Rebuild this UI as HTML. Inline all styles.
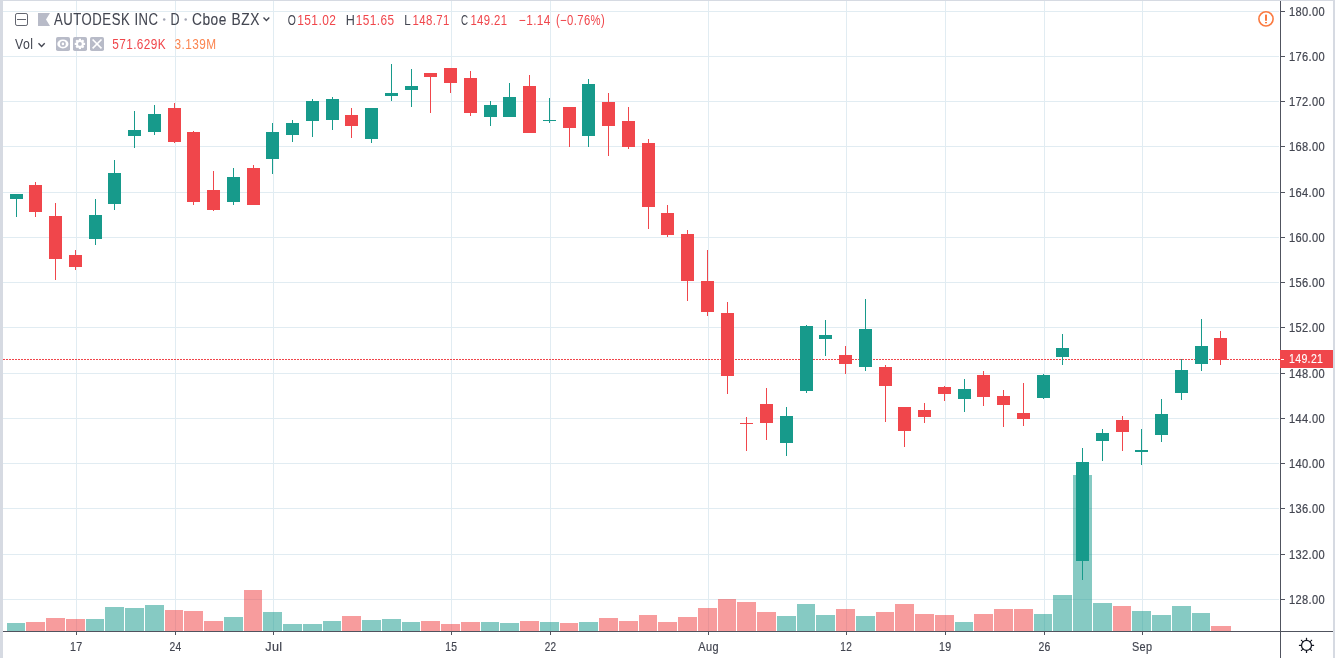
<!DOCTYPE html>
<html><head><meta charset="utf-8"><style>
html,body{margin:0;padding:0;background:#fff}
body{width:1335px;height:658px;overflow:hidden;position:relative;font-family:"Liberation Sans", sans-serif}
</style></head><body>
<svg width="1335" height="658" viewBox="0 0 1335 658" style="position:absolute;left:0;top:0;will-change:transform">
<g shape-rendering="crispEdges">
<rect x="0" y="0" width="1335" height="658" fill="#fff"/>
<rect x="0" y="0" width="3" height="658" fill="#d6dae2"/>
<rect x="0" y="0" width="1335" height="1" fill="#d6dae2"/>
<rect x="1333" y="0" width="2" height="658" fill="#d6dae2"/>
<rect x="3" y="11" width="1276" height="1" fill="#e1ecf2"/>
<rect x="3" y="56" width="1276" height="1" fill="#e1ecf2"/>
<rect x="3" y="101" width="1276" height="1" fill="#e1ecf2"/>
<rect x="3" y="146" width="1276" height="1" fill="#e1ecf2"/>
<rect x="3" y="192" width="1276" height="1" fill="#e1ecf2"/>
<rect x="3" y="237" width="1276" height="1" fill="#e1ecf2"/>
<rect x="3" y="282" width="1276" height="1" fill="#e1ecf2"/>
<rect x="3" y="327" width="1276" height="1" fill="#e1ecf2"/>
<rect x="3" y="373" width="1276" height="1" fill="#e1ecf2"/>
<rect x="3" y="418" width="1276" height="1" fill="#e1ecf2"/>
<rect x="3" y="463" width="1276" height="1" fill="#e1ecf2"/>
<rect x="3" y="508" width="1276" height="1" fill="#e1ecf2"/>
<rect x="3" y="554" width="1276" height="1" fill="#e1ecf2"/>
<rect x="3" y="599" width="1276" height="1" fill="#e1ecf2"/>
<rect x="76" y="1" width="1" height="630" fill="#e1ecf2"/>
<rect x="175" y="1" width="1" height="630" fill="#e1ecf2"/>
<rect x="273" y="1" width="1" height="630" fill="#e1ecf2"/>
<rect x="451" y="1" width="1" height="630" fill="#e1ecf2"/>
<rect x="550" y="1" width="1" height="630" fill="#e1ecf2"/>
<rect x="708" y="1" width="1" height="630" fill="#e1ecf2"/>
<rect x="846" y="1" width="1" height="630" fill="#e1ecf2"/>
<rect x="945" y="1" width="1" height="630" fill="#e1ecf2"/>
<rect x="1044" y="1" width="1" height="630" fill="#e1ecf2"/>
<rect x="1142" y="1" width="1" height="630" fill="#e1ecf2"/>
<rect x="7" y="623" width="18" height="8" fill="#0e9688" fill-opacity="0.5"/>
<rect x="26" y="622" width="19" height="9" fill="#ef3a3c" fill-opacity="0.5"/>
<rect x="46" y="618" width="19" height="13" fill="#ef3a3c" fill-opacity="0.5"/>
<rect x="66" y="619" width="19" height="12" fill="#ef3a3c" fill-opacity="0.5"/>
<rect x="86" y="619" width="18" height="12" fill="#0e9688" fill-opacity="0.5"/>
<rect x="105" y="607" width="19" height="24" fill="#0e9688" fill-opacity="0.5"/>
<rect x="125" y="608" width="19" height="23" fill="#0e9688" fill-opacity="0.5"/>
<rect x="145" y="605" width="19" height="26" fill="#0e9688" fill-opacity="0.5"/>
<rect x="165" y="610" width="18" height="21" fill="#ef3a3c" fill-opacity="0.5"/>
<rect x="184" y="611" width="19" height="20" fill="#ef3a3c" fill-opacity="0.5"/>
<rect x="204" y="621" width="19" height="10" fill="#ef3a3c" fill-opacity="0.5"/>
<rect x="224" y="617" width="19" height="14" fill="#0e9688" fill-opacity="0.5"/>
<rect x="244" y="590" width="18" height="41" fill="#ef3a3c" fill-opacity="0.5"/>
<rect x="263" y="612" width="19" height="19" fill="#0e9688" fill-opacity="0.5"/>
<rect x="283" y="624" width="19" height="7" fill="#0e9688" fill-opacity="0.5"/>
<rect x="303" y="624" width="19" height="7" fill="#0e9688" fill-opacity="0.5"/>
<rect x="323" y="621" width="18" height="10" fill="#0e9688" fill-opacity="0.5"/>
<rect x="342" y="616" width="19" height="15" fill="#ef3a3c" fill-opacity="0.5"/>
<rect x="362" y="620" width="19" height="11" fill="#0e9688" fill-opacity="0.5"/>
<rect x="382" y="619" width="19" height="12" fill="#0e9688" fill-opacity="0.5"/>
<rect x="402" y="622" width="18" height="9" fill="#0e9688" fill-opacity="0.5"/>
<rect x="421" y="621" width="19" height="10" fill="#ef3a3c" fill-opacity="0.5"/>
<rect x="441" y="624" width="19" height="7" fill="#ef3a3c" fill-opacity="0.5"/>
<rect x="461" y="622" width="19" height="9" fill="#ef3a3c" fill-opacity="0.5"/>
<rect x="481" y="622" width="18" height="9" fill="#0e9688" fill-opacity="0.5"/>
<rect x="500" y="623" width="19" height="8" fill="#0e9688" fill-opacity="0.5"/>
<rect x="520" y="621" width="19" height="10" fill="#ef3a3c" fill-opacity="0.5"/>
<rect x="540" y="622" width="19" height="9" fill="#0e9688" fill-opacity="0.5"/>
<rect x="560" y="623" width="18" height="8" fill="#ef3a3c" fill-opacity="0.5"/>
<rect x="579" y="622" width="19" height="9" fill="#0e9688" fill-opacity="0.5"/>
<rect x="599" y="618" width="19" height="13" fill="#ef3a3c" fill-opacity="0.5"/>
<rect x="619" y="621" width="19" height="10" fill="#ef3a3c" fill-opacity="0.5"/>
<rect x="639" y="615" width="18" height="16" fill="#ef3a3c" fill-opacity="0.5"/>
<rect x="658" y="622" width="19" height="9" fill="#ef3a3c" fill-opacity="0.5"/>
<rect x="678" y="617" width="19" height="14" fill="#ef3a3c" fill-opacity="0.5"/>
<rect x="698" y="608" width="19" height="23" fill="#ef3a3c" fill-opacity="0.5"/>
<rect x="718" y="599" width="18" height="32" fill="#ef3a3c" fill-opacity="0.5"/>
<rect x="737" y="602" width="19" height="29" fill="#ef3a3c" fill-opacity="0.5"/>
<rect x="757" y="612" width="19" height="19" fill="#ef3a3c" fill-opacity="0.5"/>
<rect x="777" y="616" width="19" height="15" fill="#0e9688" fill-opacity="0.5"/>
<rect x="797" y="604" width="18" height="27" fill="#0e9688" fill-opacity="0.5"/>
<rect x="816" y="615" width="19" height="16" fill="#0e9688" fill-opacity="0.5"/>
<rect x="836" y="609" width="19" height="22" fill="#ef3a3c" fill-opacity="0.5"/>
<rect x="856" y="616" width="19" height="15" fill="#0e9688" fill-opacity="0.5"/>
<rect x="876" y="612" width="18" height="19" fill="#ef3a3c" fill-opacity="0.5"/>
<rect x="895" y="604" width="19" height="27" fill="#ef3a3c" fill-opacity="0.5"/>
<rect x="915" y="614" width="19" height="17" fill="#ef3a3c" fill-opacity="0.5"/>
<rect x="935" y="615" width="19" height="16" fill="#ef3a3c" fill-opacity="0.5"/>
<rect x="955" y="622" width="18" height="9" fill="#0e9688" fill-opacity="0.5"/>
<rect x="974" y="614" width="19" height="17" fill="#ef3a3c" fill-opacity="0.5"/>
<rect x="994" y="609" width="19" height="22" fill="#ef3a3c" fill-opacity="0.5"/>
<rect x="1014" y="609" width="19" height="22" fill="#ef3a3c" fill-opacity="0.5"/>
<rect x="1034" y="614" width="18" height="17" fill="#0e9688" fill-opacity="0.5"/>
<rect x="1053" y="595" width="19" height="36" fill="#0e9688" fill-opacity="0.5"/>
<rect x="1073" y="475" width="19" height="156" fill="#0e9688" fill-opacity="0.5"/>
<rect x="1093" y="603" width="19" height="28" fill="#0e9688" fill-opacity="0.5"/>
<rect x="1113" y="606" width="18" height="25" fill="#ef3a3c" fill-opacity="0.5"/>
<rect x="1132" y="611" width="19" height="20" fill="#0e9688" fill-opacity="0.5"/>
<rect x="1152" y="615" width="19" height="16" fill="#0e9688" fill-opacity="0.5"/>
<rect x="1172" y="606" width="19" height="25" fill="#0e9688" fill-opacity="0.5"/>
<rect x="1192" y="613" width="18" height="18" fill="#0e9688" fill-opacity="0.5"/>
<rect x="1211" y="626" width="20" height="5" fill="#ef3a3c" fill-opacity="0.5"/>
</g>
<line x1="3" y1="359.5" x2="1280" y2="359.5" stroke="#f0464b" stroke-width="1" stroke-dasharray="2 1"/>
<g shape-rendering="crispEdges">
<rect x="16" y="194" width="1" height="23" fill="#179a8b"/>
<rect x="10" y="194" width="13" height="5" fill="#179a8b"/>
<rect x="35" y="182" width="1" height="35" fill="#f0464b"/>
<rect x="29" y="185" width="13" height="27" fill="#f0464b"/>
<rect x="55" y="203" width="1" height="77" fill="#f0464b"/>
<rect x="49" y="216" width="13" height="43" fill="#f0464b"/>
<rect x="75" y="250" width="1" height="20" fill="#f0464b"/>
<rect x="69" y="255" width="13" height="12" fill="#f0464b"/>
<rect x="95" y="199" width="1" height="46" fill="#179a8b"/>
<rect x="89" y="215" width="13" height="24" fill="#179a8b"/>
<rect x="114" y="160" width="1" height="50" fill="#179a8b"/>
<rect x="108" y="173" width="13" height="31" fill="#179a8b"/>
<rect x="134" y="111" width="1" height="37" fill="#179a8b"/>
<rect x="128" y="130" width="13" height="6" fill="#179a8b"/>
<rect x="154" y="105" width="1" height="30" fill="#179a8b"/>
<rect x="148" y="114" width="13" height="18" fill="#179a8b"/>
<rect x="174" y="103" width="1" height="40" fill="#f0464b"/>
<rect x="168" y="108" width="13" height="34" fill="#f0464b"/>
<rect x="193" y="131" width="1" height="74" fill="#f0464b"/>
<rect x="187" y="132" width="13" height="70" fill="#f0464b"/>
<rect x="213" y="171" width="1" height="40" fill="#f0464b"/>
<rect x="207" y="190" width="13" height="20" fill="#f0464b"/>
<rect x="233" y="168" width="1" height="37" fill="#179a8b"/>
<rect x="227" y="177" width="13" height="25" fill="#179a8b"/>
<rect x="253" y="165" width="1" height="39" fill="#f0464b"/>
<rect x="247" y="168" width="13" height="37" fill="#f0464b"/>
<rect x="272" y="123" width="1" height="51" fill="#179a8b"/>
<rect x="266" y="132" width="13" height="27" fill="#179a8b"/>
<rect x="292" y="120" width="1" height="22" fill="#179a8b"/>
<rect x="286" y="123" width="13" height="12" fill="#179a8b"/>
<rect x="312" y="99" width="1" height="38" fill="#179a8b"/>
<rect x="306" y="101" width="13" height="20" fill="#179a8b"/>
<rect x="332" y="97" width="1" height="33" fill="#179a8b"/>
<rect x="326" y="99" width="13" height="21" fill="#179a8b"/>
<rect x="351" y="108" width="1" height="30" fill="#f0464b"/>
<rect x="345" y="115" width="13" height="11" fill="#f0464b"/>
<rect x="371" y="108" width="1" height="35" fill="#179a8b"/>
<rect x="365" y="108" width="13" height="31" fill="#179a8b"/>
<rect x="391" y="64" width="1" height="37" fill="#179a8b"/>
<rect x="385" y="93" width="13" height="3" fill="#179a8b"/>
<rect x="411" y="69" width="1" height="38" fill="#179a8b"/>
<rect x="405" y="86" width="13" height="4" fill="#179a8b"/>
<rect x="430" y="73" width="1" height="40" fill="#f0464b"/>
<rect x="424" y="73" width="13" height="4" fill="#f0464b"/>
<rect x="450" y="68" width="1" height="25" fill="#f0464b"/>
<rect x="444" y="68" width="13" height="15" fill="#f0464b"/>
<rect x="470" y="71" width="1" height="45" fill="#f0464b"/>
<rect x="464" y="78" width="13" height="35" fill="#f0464b"/>
<rect x="490" y="101" width="1" height="25" fill="#179a8b"/>
<rect x="484" y="105" width="13" height="12" fill="#179a8b"/>
<rect x="509" y="83" width="1" height="34" fill="#179a8b"/>
<rect x="503" y="97" width="13" height="20" fill="#179a8b"/>
<rect x="529" y="75" width="1" height="58" fill="#f0464b"/>
<rect x="523" y="86" width="13" height="47" fill="#f0464b"/>
<rect x="549" y="98" width="1" height="25" fill="#179a8b"/>
<rect x="543" y="120" width="13" height="1" fill="#179a8b"/>
<rect x="569" y="107" width="1" height="40" fill="#f0464b"/>
<rect x="563" y="107" width="13" height="21" fill="#f0464b"/>
<rect x="588" y="79" width="1" height="68" fill="#179a8b"/>
<rect x="582" y="84" width="13" height="52" fill="#179a8b"/>
<rect x="608" y="93" width="1" height="63" fill="#f0464b"/>
<rect x="602" y="102" width="13" height="24" fill="#f0464b"/>
<rect x="628" y="107" width="1" height="42" fill="#f0464b"/>
<rect x="622" y="121" width="13" height="26" fill="#f0464b"/>
<rect x="648" y="139" width="1" height="90" fill="#f0464b"/>
<rect x="642" y="143" width="13" height="64" fill="#f0464b"/>
<rect x="667" y="205" width="1" height="32" fill="#f0464b"/>
<rect x="661" y="213" width="13" height="22" fill="#f0464b"/>
<rect x="687" y="230" width="1" height="71" fill="#f0464b"/>
<rect x="681" y="234" width="13" height="47" fill="#f0464b"/>
<rect x="707" y="250" width="1" height="66" fill="#f0464b"/>
<rect x="701" y="281" width="13" height="31" fill="#f0464b"/>
<rect x="727" y="302" width="1" height="92" fill="#f0464b"/>
<rect x="721" y="313" width="13" height="63" fill="#f0464b"/>
<rect x="746" y="417" width="1" height="34" fill="#f0464b"/>
<rect x="740" y="423" width="13" height="1" fill="#f0464b"/>
<rect x="766" y="388" width="1" height="52" fill="#f0464b"/>
<rect x="760" y="404" width="13" height="19" fill="#f0464b"/>
<rect x="786" y="407" width="1" height="49" fill="#179a8b"/>
<rect x="780" y="416" width="13" height="27" fill="#179a8b"/>
<rect x="806" y="325" width="1" height="68" fill="#179a8b"/>
<rect x="800" y="326" width="13" height="65" fill="#179a8b"/>
<rect x="825" y="320" width="1" height="36" fill="#179a8b"/>
<rect x="819" y="335" width="13" height="4" fill="#179a8b"/>
<rect x="845" y="346" width="1" height="28" fill="#f0464b"/>
<rect x="839" y="355" width="13" height="9" fill="#f0464b"/>
<rect x="865" y="299" width="1" height="72" fill="#179a8b"/>
<rect x="859" y="329" width="13" height="38" fill="#179a8b"/>
<rect x="885" y="365" width="1" height="57" fill="#f0464b"/>
<rect x="879" y="367" width="13" height="19" fill="#f0464b"/>
<rect x="904" y="407" width="1" height="40" fill="#f0464b"/>
<rect x="898" y="407" width="13" height="24" fill="#f0464b"/>
<rect x="924" y="403" width="1" height="20" fill="#f0464b"/>
<rect x="918" y="410" width="13" height="7" fill="#f0464b"/>
<rect x="944" y="386" width="1" height="15" fill="#f0464b"/>
<rect x="938" y="387" width="13" height="7" fill="#f0464b"/>
<rect x="964" y="379" width="1" height="33" fill="#179a8b"/>
<rect x="958" y="389" width="13" height="10" fill="#179a8b"/>
<rect x="983" y="371" width="1" height="35" fill="#f0464b"/>
<rect x="977" y="375" width="13" height="22" fill="#f0464b"/>
<rect x="1003" y="390" width="1" height="37" fill="#f0464b"/>
<rect x="997" y="396" width="13" height="9" fill="#f0464b"/>
<rect x="1023" y="383" width="1" height="43" fill="#f0464b"/>
<rect x="1017" y="413" width="13" height="6" fill="#f0464b"/>
<rect x="1043" y="374" width="1" height="25" fill="#179a8b"/>
<rect x="1037" y="375" width="13" height="23" fill="#179a8b"/>
<rect x="1062" y="334" width="1" height="31" fill="#179a8b"/>
<rect x="1056" y="348" width="13" height="9" fill="#179a8b"/>
<rect x="1082" y="448" width="1" height="132" fill="#179a8b"/>
<rect x="1076" y="462" width="13" height="99" fill="#179a8b"/>
<rect x="1102" y="429" width="1" height="32" fill="#179a8b"/>
<rect x="1096" y="433" width="13" height="8" fill="#179a8b"/>
<rect x="1122" y="416" width="1" height="35" fill="#f0464b"/>
<rect x="1116" y="420" width="13" height="12" fill="#f0464b"/>
<rect x="1141" y="429" width="1" height="36" fill="#179a8b"/>
<rect x="1135" y="450" width="13" height="2" fill="#179a8b"/>
<rect x="1161" y="399" width="1" height="43" fill="#179a8b"/>
<rect x="1155" y="414" width="13" height="21" fill="#179a8b"/>
<rect x="1181" y="359" width="1" height="41" fill="#179a8b"/>
<rect x="1175" y="370" width="13" height="23" fill="#179a8b"/>
<rect x="1201" y="319" width="1" height="52" fill="#179a8b"/>
<rect x="1195" y="346" width="13" height="18" fill="#179a8b"/>
<rect x="1220" y="331" width="1" height="34" fill="#f0464b"/>
<rect x="1214" y="338" width="13" height="22" fill="#f0464b"/>
</g>
<g shape-rendering="crispEdges">
<rect x="1280" y="1" width="1" height="657" fill="#50535e"/>
<rect x="3" y="631" width="1330" height="1" fill="#50535e"/>
<rect x="1281" y="11" width="4" height="1" fill="#50535e"/>
<rect x="1281" y="56" width="4" height="1" fill="#50535e"/>
<rect x="1281" y="101" width="4" height="1" fill="#50535e"/>
<rect x="1281" y="146" width="4" height="1" fill="#50535e"/>
<rect x="1281" y="192" width="4" height="1" fill="#50535e"/>
<rect x="1281" y="237" width="4" height="1" fill="#50535e"/>
<rect x="1281" y="282" width="4" height="1" fill="#50535e"/>
<rect x="1281" y="327" width="4" height="1" fill="#50535e"/>
<rect x="1281" y="373" width="4" height="1" fill="#50535e"/>
<rect x="1281" y="418" width="4" height="1" fill="#50535e"/>
<rect x="1281" y="463" width="4" height="1" fill="#50535e"/>
<rect x="1281" y="508" width="4" height="1" fill="#50535e"/>
<rect x="1281" y="554" width="4" height="1" fill="#50535e"/>
<rect x="1281" y="599" width="4" height="1" fill="#50535e"/>
<rect x="76" y="632" width="1" height="3" fill="#50535e"/>
<rect x="175" y="632" width="1" height="3" fill="#50535e"/>
<rect x="273" y="632" width="1" height="3" fill="#50535e"/>
<rect x="451" y="632" width="1" height="3" fill="#50535e"/>
<rect x="550" y="632" width="1" height="3" fill="#50535e"/>
<rect x="708" y="632" width="1" height="3" fill="#50535e"/>
<rect x="846" y="632" width="1" height="3" fill="#50535e"/>
<rect x="945" y="632" width="1" height="3" fill="#50535e"/>
<rect x="1044" y="632" width="1" height="3" fill="#50535e"/>
<rect x="1142" y="632" width="1" height="3" fill="#50535e"/>
<rect x="1280" y="350" width="53" height="18" fill="#f0464b"/>
<rect x="1281" y="359" width="3" height="1" fill="#fff"/>
</g>
<text transform="translate(54.00,25) scale(0.7724,1)" font-family='"Liberation Sans", sans-serif' font-size="17" letter-spacing="0.7" fill="#434651" stroke="#434651" stroke-width="0.1">AUTODESK INC</text>
<text transform="translate(170.46,25) scale(0.7364,1)" font-family='"Liberation Sans", sans-serif' font-size="17" letter-spacing="0" fill="#434651" stroke="#434651" stroke-width="0.1">D</text>
<text transform="translate(191.89,25) scale(0.8098,1)" font-family='"Liberation Sans", sans-serif' font-size="17" letter-spacing="0.7" fill="#434651" stroke="#434651" stroke-width="0.1">Cboe BZX</text>
<text transform="translate(287.80,25) scale(0.7455,1)" font-family='"Liberation Sans", sans-serif' font-size="14" letter-spacing="0.5" fill="#434651">O</text>
<text transform="translate(297.15,25) scale(0.8545,1)" font-family='"Liberation Sans", sans-serif' font-size="14" letter-spacing="0.5" fill="#f0464b">151.02</text>
<text transform="translate(345.80,25) scale(0.9000,1)" font-family='"Liberation Sans", sans-serif' font-size="14" letter-spacing="0.5" fill="#434651">H</text>
<text transform="translate(355.75,25) scale(0.8477,1)" font-family='"Liberation Sans", sans-serif' font-size="14" letter-spacing="0.5" fill="#f0464b">151.65</text>
<text transform="translate(404.37,25) scale(0.8286,1)" font-family='"Liberation Sans", sans-serif' font-size="14" letter-spacing="0.5" fill="#434651">L</text>
<text transform="translate(412.48,25) scale(0.8159,1)" font-family='"Liberation Sans", sans-serif' font-size="14" letter-spacing="0.5" fill="#f0464b">148.71</text>
<text transform="translate(461.00,25) scale(0.7000,1)" font-family='"Liberation Sans", sans-serif' font-size="14" letter-spacing="0.5" fill="#434651">C</text>
<text transform="translate(470.39,25) scale(0.8091,1)" font-family='"Liberation Sans", sans-serif' font-size="14" letter-spacing="0.5" fill="#f0464b">149.21</text>
<text transform="translate(518.86,25) scale(0.8432,1)" font-family='"Liberation Sans", sans-serif' font-size="14" letter-spacing="0.5" fill="#f0464b">−1.14</text>
<text transform="translate(555.89,25) scale(0.8068,1)" font-family='"Liberation Sans", sans-serif' font-size="14" letter-spacing="0.5" fill="#f0464b">(−0.76%)</text>
<text transform="translate(15.10,49) scale(0.8800,1)" font-family='"Liberation Sans", sans-serif' font-size="14" letter-spacing="0.5" fill="#434651">Vol</text>
<text transform="translate(112.15,49) scale(0.8452,1)" font-family='"Liberation Sans", sans-serif' font-size="14" letter-spacing="0.5" fill="#f0464b">571.629K</text>
<text transform="translate(174.60,49) scale(0.8438,1)" font-family='"Liberation Sans", sans-serif' font-size="14" letter-spacing="0.5" fill="#fb8550">3.139M</text>
<text transform="translate(1288.95,16) scale(0.8537,1)" font-family='"Liberation Sans", sans-serif' font-size="13" letter-spacing="0.4" fill="#434651" stroke="#434651" stroke-width="0.2">180.00</text>
<text transform="translate(1288.95,61) scale(0.8537,1)" font-family='"Liberation Sans", sans-serif' font-size="13" letter-spacing="0.4" fill="#434651" stroke="#434651" stroke-width="0.2">176.00</text>
<text transform="translate(1288.95,106) scale(0.8537,1)" font-family='"Liberation Sans", sans-serif' font-size="13" letter-spacing="0.4" fill="#434651" stroke="#434651" stroke-width="0.2">172.00</text>
<text transform="translate(1288.95,151) scale(0.8537,1)" font-family='"Liberation Sans", sans-serif' font-size="13" letter-spacing="0.4" fill="#434651" stroke="#434651" stroke-width="0.2">168.00</text>
<text transform="translate(1288.95,197) scale(0.8537,1)" font-family='"Liberation Sans", sans-serif' font-size="13" letter-spacing="0.4" fill="#434651" stroke="#434651" stroke-width="0.2">164.00</text>
<text transform="translate(1288.95,242) scale(0.8537,1)" font-family='"Liberation Sans", sans-serif' font-size="13" letter-spacing="0.4" fill="#434651" stroke="#434651" stroke-width="0.2">160.00</text>
<text transform="translate(1288.95,287) scale(0.8537,1)" font-family='"Liberation Sans", sans-serif' font-size="13" letter-spacing="0.4" fill="#434651" stroke="#434651" stroke-width="0.2">156.00</text>
<text transform="translate(1288.95,332) scale(0.8537,1)" font-family='"Liberation Sans", sans-serif' font-size="13" letter-spacing="0.4" fill="#434651" stroke="#434651" stroke-width="0.2">152.00</text>
<text transform="translate(1288.95,378) scale(0.8537,1)" font-family='"Liberation Sans", sans-serif' font-size="13" letter-spacing="0.4" fill="#434651" stroke="#434651" stroke-width="0.2">148.00</text>
<text transform="translate(1288.95,423) scale(0.8537,1)" font-family='"Liberation Sans", sans-serif' font-size="13" letter-spacing="0.4" fill="#434651" stroke="#434651" stroke-width="0.2">144.00</text>
<text transform="translate(1288.95,468) scale(0.8537,1)" font-family='"Liberation Sans", sans-serif' font-size="13" letter-spacing="0.4" fill="#434651" stroke="#434651" stroke-width="0.2">140.00</text>
<text transform="translate(1288.95,513) scale(0.8537,1)" font-family='"Liberation Sans", sans-serif' font-size="13" letter-spacing="0.4" fill="#434651" stroke="#434651" stroke-width="0.2">136.00</text>
<text transform="translate(1288.95,559) scale(0.8537,1)" font-family='"Liberation Sans", sans-serif' font-size="13" letter-spacing="0.4" fill="#434651" stroke="#434651" stroke-width="0.2">132.00</text>
<text transform="translate(1288.95,604) scale(0.8537,1)" font-family='"Liberation Sans", sans-serif' font-size="13" letter-spacing="0.4" fill="#434651" stroke="#434651" stroke-width="0.2">128.00</text>
<text transform="translate(1288.99,363) scale(0.8146,1)" font-family='"Liberation Sans", sans-serif' font-size="13" letter-spacing="0.4" fill="#fff" stroke="#fff" stroke-width="0.1">149.21</text>
<text transform="translate(69.93,651) scale(0.8214,1)" font-family='"Liberation Sans", sans-serif' font-size="13" letter-spacing="0.4" fill="#434651" stroke="#434651" stroke-width="0.2">17</text>
<text transform="translate(169.55,651) scale(0.7933,1)" font-family='"Liberation Sans", sans-serif' font-size="13" letter-spacing="0.4" fill="#434651" stroke="#434651" stroke-width="0.2">24</text>
<text transform="translate(265.25,651) scale(0.9706,1)" font-family='"Liberation Sans", sans-serif' font-size="13" letter-spacing="0.4" fill="#434651" stroke="#434651" stroke-width="0.2">Jul</text>
<text transform="translate(445.16,651) scale(0.7929,1)" font-family='"Liberation Sans", sans-serif' font-size="13" letter-spacing="0.4" fill="#434651" stroke="#434651" stroke-width="0.2">15</text>
<text transform="translate(544.75,651) scale(0.7667,1)" font-family='"Liberation Sans", sans-serif' font-size="13" letter-spacing="0.4" fill="#434651" stroke="#434651" stroke-width="0.2">22</text>
<text transform="translate(698.35,651) scale(0.8458,1)" font-family='"Liberation Sans", sans-serif' font-size="13" letter-spacing="0.4" fill="#434651" stroke="#434651" stroke-width="0.2">Aug</text>
<text transform="translate(840.33,651) scale(0.7714,1)" font-family='"Liberation Sans", sans-serif' font-size="13" letter-spacing="0.4" fill="#434651" stroke="#434651" stroke-width="0.2">12</text>
<text transform="translate(938.93,651) scale(0.8214,1)" font-family='"Liberation Sans", sans-serif' font-size="13" letter-spacing="0.4" fill="#434651" stroke="#434651" stroke-width="0.2">19</text>
<text transform="translate(1038.45,651) scale(0.8067,1)" font-family='"Liberation Sans", sans-serif' font-size="13" letter-spacing="0.4" fill="#434651" stroke="#434651" stroke-width="0.2">26</text>
<text transform="translate(1132.01,651) scale(0.8391,1)" font-family='"Liberation Sans", sans-serif' font-size="13" letter-spacing="0.4" fill="#434651" stroke="#434651" stroke-width="0.2">Sep</text>
<circle cx="164.2" cy="19.6" r="1.25" fill="#a3a6b4"/>
<circle cx="185.7" cy="19.6" r="1.25" fill="#a3a6b4"/>
<path d="M263.5 17.5 L266.4 20.4 L269.3 17.5" stroke="#434651" stroke-width="1.4" fill="none"/>
<path d="M38.5 43.3 L41.6 46.4 L44.7 43.3" stroke="#434651" stroke-width="1.4" fill="none"/>
<g stroke="#131722" stroke-width="1.25" fill="none"><circle cx="1306.5" cy="645.4" r="4.95"/>
<line x1="1311.40" y1="645.40" x2="1314.10" y2="645.40"/>
<line x1="1306.50" y1="650.30" x2="1306.50" y2="653.00"/>
<line x1="1301.60" y1="645.40" x2="1298.90" y2="645.40"/>
<line x1="1306.50" y1="640.50" x2="1306.50" y2="637.80"/>
</g>
<rect x="1310.80" y="649.70" width="1.3" height="1.3" fill="#131722"/>
<circle cx="1310.25" cy="649.15" r="0.8" fill="#131722"/>
<rect x="1300.90" y="649.70" width="1.3" height="1.3" fill="#131722"/>
<circle cx="1302.75" cy="649.15" r="0.8" fill="#131722"/>
<rect x="1300.90" y="639.80" width="1.3" height="1.3" fill="#131722"/>
<circle cx="1302.75" cy="641.65" r="0.8" fill="#131722"/>
<rect x="1310.80" y="639.80" width="1.3" height="1.3" fill="#131722"/>
<circle cx="1310.25" cy="641.65" r="0.8" fill="#131722"/>
<circle cx="1266" cy="18.9" r="7.1" stroke="#fb7a40" stroke-width="1.6" fill="none"/>
<rect x="1265" y="14.6" width="2" height="6.2" fill="#fb7a40"/>
<rect x="1265" y="22" width="2" height="1.3" fill="#fb7a40"/>
<rect x="15.5" y="13.5" width="12" height="12" rx="1.6" ry="1.6" stroke="#62656f" stroke-width="1" fill="none"/>
<rect x="17" y="19" width="9" height="1" fill="#62656f"/>
<path d="M38 13 H50 L46 19.5 L50 26 H38 Z" fill="#b8bbc8"/>
<rect x="56" y="37" width="14" height="14" rx="1.8" ry="1.8" fill="#b8bbc8"/>
<rect x="73" y="37" width="14" height="14" rx="1.8" ry="1.8" fill="#b8bbc8"/>
<rect x="90" y="37" width="14" height="14" rx="1.8" ry="1.8" fill="#b8bbc8"/>
<ellipse cx="62.9" cy="43.9" rx="5.6" ry="4.5" fill="#fff"/>
<circle cx="62.9" cy="43.9" r="2.9" fill="#b8bbc8"/>
<circle cx="62.9" cy="43.9" r="1.3" fill="#fff"/>
<rect x="78.80" y="38.70" width="2.2" height="3" fill="#fff" transform="rotate(0 79.9 43.9)"/><rect x="78.80" y="38.70" width="2.2" height="3" fill="#fff" transform="rotate(45 79.9 43.9)"/><rect x="78.80" y="38.70" width="2.2" height="3" fill="#fff" transform="rotate(90 79.9 43.9)"/><rect x="78.80" y="38.70" width="2.2" height="3" fill="#fff" transform="rotate(135 79.9 43.9)"/><rect x="78.80" y="38.70" width="2.2" height="3" fill="#fff" transform="rotate(180 79.9 43.9)"/><rect x="78.80" y="38.70" width="2.2" height="3" fill="#fff" transform="rotate(225 79.9 43.9)"/><rect x="78.80" y="38.70" width="2.2" height="3" fill="#fff" transform="rotate(270 79.9 43.9)"/><rect x="78.80" y="38.70" width="2.2" height="3" fill="#fff" transform="rotate(315 79.9 43.9)"/>
<circle cx="79.9" cy="43.9" r="3.9" fill="#fff"/>
<circle cx="79.9" cy="43.9" r="1.9" fill="#b8bbc8"/>
<path d="M92.6 39.5 L101.5 48.4 M101.5 39.5 L92.6 48.4" stroke="#fff" stroke-width="1.6"/>
</svg>

</body></html>
